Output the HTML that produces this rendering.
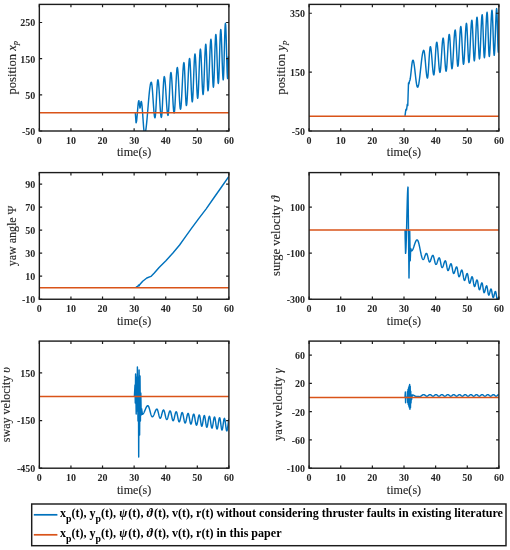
<!DOCTYPE html>
<html lang="en"><head><meta charset="utf-8"><title>figure</title>
<style>
html,body{margin:0;padding:0;background:#fff;}
body{width:510px;height:550px;overflow:hidden;}
svg{display:block;}
text{font-family:"Liberation Serif","DejaVu Serif",serif;fill:#262626;}
.tk{font-size:10.0px;font-weight:bold;}
.lb{font-size:11.5px;stroke:#262626;stroke-width:0.12px;}
.it{font-style:italic;}
.lg{font-size:12.07px;font-weight:bold;fill:#000;}
.sb{font-size:9.8px;}
.bi{font-style:italic;letter-spacing:1.1px;}
</style></head><body>
<svg width="510" height="550" viewBox="0 0 510 550">
<rect width="510" height="550" fill="#fff"/>
<defs>
<clipPath id="cl00"><rect x="39.35" y="4.4" width="189.55" height="126.6"/></clipPath>
<clipPath id="cl10"><rect x="309.1" y="4.4" width="189.79999999999995" height="126.6"/></clipPath>
<clipPath id="cl01"><rect x="39.35" y="172.6" width="189.55" height="126.65"/></clipPath>
<clipPath id="cl11"><rect x="309.1" y="172.6" width="189.79999999999995" height="126.65"/></clipPath>
<clipPath id="cl02"><rect x="39.35" y="341.1" width="189.55" height="127.09999999999997"/></clipPath>
<clipPath id="cl12"><rect x="309.1" y="341.1" width="189.79999999999995" height="127.09999999999997"/></clipPath>
</defs>
<g clip-path="url(#cl00)">
<path d="M135.31,112.95 L136.05,122.77 L136.28,122.39 L136.52,121.29 L136.76,119.53 L136.99,117.24 L137.23,114.58 L137.46,111.72 L137.70,108.86 L137.93,106.19 L138.17,103.91 L138.40,102.15 L138.64,101.05 L138.87,100.67 L139.98,108.04 L140.22,107.40 L140.47,105.75 L140.71,103.70 L140.96,102.04 L141.21,101.41 L141.45,101.81 L141.70,103.01 L141.94,104.94 L142.19,107.51 L142.43,110.58 L142.68,114.01 L142.92,117.61 L143.17,121.22 L143.42,124.64 L143.66,127.72 L143.91,130.28 L144.15,132.21 L144.40,133.41 L144.64,133.82 L144.89,133.64 L145.13,133.12 L145.38,132.26 L145.62,131.07 L145.87,129.58 L146.12,127.79 L146.36,125.73 L146.61,123.43 L146.85,120.93 L147.10,118.25 L147.34,115.43 L147.59,112.51 L147.83,109.53 L148.08,106.54 L148.33,103.56 L148.57,100.64 L148.82,97.82 L149.06,95.15 L149.31,92.64 L149.55,90.34 L149.80,88.29 L150.04,86.50 L150.29,85.00 L150.54,83.81 L150.78,82.95 L151.03,82.43 L151.27,82.25 L151.52,82.64 L151.76,83.79 L152.01,85.65 L152.25,88.14 L152.50,91.16 L152.75,94.55 L152.99,98.20 L153.24,101.92 L153.48,105.56 L153.73,108.96 L153.97,111.97 L154.22,114.46 L154.46,116.32 L154.71,117.47 L154.96,117.86 L155.20,117.21 L155.45,115.31 L155.69,112.28 L155.94,108.34 L156.18,103.75 L156.43,98.83 L156.67,93.90 L156.92,89.31 L157.17,85.37 L157.41,82.35 L157.66,80.45 L157.90,79.80 L158.15,80.27 L158.39,81.66 L158.64,83.90 L158.88,86.87 L159.13,90.43 L159.38,94.40 L159.62,98.58 L159.87,102.76 L160.11,106.73 L160.36,110.29 L160.60,113.27 L160.85,115.51 L161.09,116.90 L161.34,117.37 L161.58,116.67 L161.83,114.64 L162.08,111.40 L162.32,107.18 L162.57,102.26 L162.81,96.99 L163.06,91.71 L163.30,86.80 L163.55,82.58 L163.79,79.34 L164.04,77.30 L164.29,76.61 L164.53,77.03 L164.78,78.28 L165.02,80.31 L165.27,83.03 L165.51,86.31 L165.76,90.01 L166.00,93.98 L166.25,98.03 L166.50,102.00 L166.74,105.70 L166.99,108.98 L167.23,111.70 L167.48,113.72 L167.72,114.98 L167.97,115.40 L168.21,114.67 L168.46,112.52 L168.71,109.11 L168.95,104.66 L169.20,99.48 L169.44,93.92 L169.69,88.36 L169.93,83.18 L170.18,78.73 L170.42,75.31 L170.67,73.17 L170.92,72.43 L171.16,73.02 L171.41,74.75 L171.65,77.53 L171.90,81.18 L172.14,85.51 L172.39,90.25 L172.63,95.13 L172.88,99.87 L173.12,104.20 L173.37,107.85 L173.62,110.63 L173.86,112.36 L174.11,112.95 L174.35,112.29 L174.60,110.34 L174.84,107.23 L175.09,103.14 L175.33,98.29 L175.58,92.97 L175.83,87.50 L176.07,82.18 L176.32,77.33 L176.56,73.23 L176.81,70.12 L177.05,68.18 L177.30,67.52 L177.54,68.13 L177.79,69.91 L178.04,72.77 L178.28,76.54 L178.53,80.99 L178.77,85.88 L179.02,90.91 L179.26,95.79 L179.51,100.25 L179.75,104.01 L180.00,106.87 L180.25,108.66 L180.49,109.26 L180.74,108.68 L180.98,106.95 L181.23,104.17 L181.47,100.48 L181.72,96.06 L181.96,91.13 L182.21,85.94 L182.46,80.75 L182.70,75.82 L182.95,71.39 L183.19,67.70 L183.44,64.92 L183.68,63.20 L183.93,62.61 L184.17,63.66 L184.42,66.71 L184.67,71.47 L184.91,77.46 L185.16,84.10 L185.40,90.74 L185.65,96.72 L185.89,101.48 L186.14,104.53 L186.38,105.58 L186.63,104.90 L186.88,102.88 L187.12,99.65 L187.37,95.40 L187.61,90.37 L187.86,84.85 L188.10,79.17 L188.35,73.65 L188.59,68.62 L188.84,64.37 L189.08,61.14 L189.33,59.12 L189.58,58.44 L189.82,59.32 L190.07,61.89 L190.31,65.94 L190.56,71.14 L190.80,77.07 L191.05,83.26 L191.29,89.19 L191.54,94.40 L191.79,98.45 L192.03,101.02 L192.28,101.90 L192.52,100.93 L192.77,98.10 L193.01,93.63 L193.26,87.90 L193.50,81.36 L193.75,74.55 L194.00,68.01 L194.24,62.28 L194.49,57.82 L194.73,54.99 L194.98,54.02 L195.22,54.91 L195.47,57.53 L195.71,61.64 L195.96,66.94 L196.21,72.97 L196.45,79.26 L196.70,85.30 L196.94,90.59 L197.19,94.71 L197.43,97.32 L197.68,98.21 L197.92,97.22 L198.17,94.32 L198.42,89.74 L198.66,83.86 L198.91,77.16 L199.15,70.17 L199.40,63.46 L199.64,57.58 L199.89,53.00 L200.13,50.10 L200.38,49.11 L200.62,50.03 L200.87,52.71 L201.12,56.95 L201.36,62.38 L201.61,68.59 L201.85,75.05 L202.10,81.25 L202.34,86.69 L202.59,90.93 L202.83,93.61 L203.08,94.53 L203.33,93.51 L203.57,90.54 L203.82,85.84 L204.06,79.82 L204.31,72.95 L204.55,65.78 L204.80,58.91 L205.04,52.88 L205.29,48.19 L205.54,45.22 L205.78,44.20 L206.03,45.60 L206.27,49.65 L206.52,55.86 L206.76,63.47 L207.01,71.57 L207.25,79.19 L207.50,85.39 L207.75,89.44 L207.99,90.85 L208.24,89.97 L208.48,87.39 L208.73,83.30 L208.97,77.96 L209.22,71.74 L209.46,65.07 L209.71,58.39 L209.96,52.18 L210.20,46.84 L210.45,42.74 L210.69,40.16 L210.94,39.29 L211.18,40.46 L211.43,43.86 L211.67,49.15 L211.92,55.83 L212.17,63.23 L212.41,70.62 L212.66,77.30 L212.90,82.59 L213.15,85.99 L213.39,87.17 L213.64,85.87 L213.88,82.12 L214.13,76.28 L214.38,68.93 L214.62,60.77 L214.87,52.61 L215.11,45.26 L215.36,39.42 L215.60,35.67 L215.85,34.38 L216.09,35.58 L216.34,39.06 L216.58,44.50 L216.83,51.34 L217.08,58.93 L217.32,66.52 L217.57,73.36 L217.81,78.79 L218.06,82.28 L218.30,83.48 L218.55,82.16 L218.79,78.32 L219.04,72.35 L219.29,64.82 L219.53,56.47 L219.78,48.13 L220.02,40.60 L220.27,34.62 L220.51,30.79 L220.76,29.46 L221.00,30.70 L221.25,34.27 L221.50,39.84 L221.74,46.85 L221.99,54.63 L222.23,62.41 L222.48,69.42 L222.72,74.99 L222.97,78.57 L223.21,79.80 L223.46,78.10 L223.71,73.19 L223.95,65.68 L224.20,56.47 L224.44,46.66 L224.69,37.44 L224.93,29.93 L225.18,25.03 L225.42,23.33 L225.67,24.99 L225.92,29.79 L226.16,37.14 L226.41,46.15 L226.65,55.75 L226.90,64.76 L227.14,72.11 L227.39,76.91 L227.63,78.57 L228.37,56.47" fill="none" stroke="#0072BD" stroke-width="1.45" stroke-linejoin="round"/>
<path d="M39.35,112.8 H228.9" fill="none" stroke="#D95319" stroke-width="1.5"/>
</g>
<rect x="39.35" y="4.4" width="189.55" height="126.60" fill="none" stroke="#1c1c1c" stroke-width="1.4"/>
<path d="M39.35,131.0 v-2.8 M39.35,4.4 v2.8 M70.94,131.0 v-2.8 M70.94,4.4 v2.8 M102.53,131.0 v-2.8 M102.53,4.4 v2.8 M134.13,131.0 v-2.8 M134.13,4.4 v2.8 M165.72,131.0 v-2.8 M165.72,4.4 v2.8 M197.31,131.0 v-2.8 M197.31,4.4 v2.8 M228.90,131.0 v-2.8 M228.90,4.4 v2.8 M39.35,131.00 h2.8 M228.9,131.00 h-2.8 M39.35,94.83 h2.8 M228.9,94.83 h-2.8 M39.35,58.66 h2.8 M228.9,58.66 h-2.8 M39.35,22.49 h2.8 M228.9,22.49 h-2.8" fill="none" stroke="#1c1c1c" stroke-width="1.2"/>
<text class="tk" x="39.35" y="144.10" text-anchor="middle">0</text>
<text class="tk" x="70.94" y="144.10" text-anchor="middle">10</text>
<text class="tk" x="102.53" y="144.10" text-anchor="middle">20</text>
<text class="tk" x="134.13" y="144.10" text-anchor="middle">30</text>
<text class="tk" x="165.72" y="144.10" text-anchor="middle">40</text>
<text class="tk" x="197.31" y="144.10" text-anchor="middle">50</text>
<text class="tk" x="228.90" y="144.10" text-anchor="middle">60</text>
<text class="tk" x="35.25" y="134.90" text-anchor="end">-50</text>
<text class="tk" x="35.25" y="98.73" text-anchor="end">50</text>
<text class="tk" x="35.25" y="62.56" text-anchor="end">150</text>
<text class="tk" x="35.25" y="26.39" text-anchor="end">250</text>
<text class="lb" x="134.12" y="156.30" text-anchor="middle" textLength="34.3" lengthAdjust="spacingAndGlyphs">time(s)</text>
<text class="lb" transform="translate(15.5,67.70) rotate(-90)" text-anchor="middle" textLength="53.6" lengthAdjust="spacingAndGlyphs">position <tspan class="it">x</tspan><tspan class="it" font-size="8" dy="2.2">p</tspan></text>
<g clip-path="url(#cl10)">
<path d="M404.82,115.89 L405.07,115.26 L405.31,113.60 L405.56,111.55 L405.80,109.90 L406.05,109.26 L406.54,110.00 L407.28,104.35 L407.77,105.58 L408.50,82.99 L409.00,83.97 L409.49,81.03 L409.73,80.77 L409.98,79.99 L410.22,78.75 L410.47,77.10 L410.71,75.12 L410.96,72.91 L411.21,70.59 L411.45,68.27 L411.70,66.06 L411.94,64.09 L412.19,62.43 L412.43,61.19 L412.68,60.42 L412.92,60.16 L413.17,60.34 L413.42,60.89 L413.66,61.78 L413.91,63.00 L414.15,64.51 L414.40,66.27 L414.64,68.24 L414.89,70.35 L415.13,72.55 L415.38,74.78 L415.62,76.98 L415.87,79.09 L416.12,81.05 L416.36,82.81 L416.61,84.32 L416.85,85.54 L417.10,86.43 L417.34,86.98 L417.59,87.17 L417.83,87.02 L418.08,86.59 L418.33,85.87 L418.57,84.89 L418.82,83.65 L419.06,82.17 L419.31,80.49 L419.55,78.62 L419.80,76.59 L420.04,74.44 L420.29,72.20 L420.54,69.91 L420.78,67.59 L421.03,65.30 L421.27,63.06 L421.52,60.91 L421.76,58.88 L422.01,57.01 L422.25,55.33 L422.50,53.85 L422.75,52.61 L422.99,51.63 L423.24,50.91 L423.48,50.48 L423.73,50.33 L423.97,50.64 L424.22,51.53 L424.46,52.98 L424.71,54.92 L424.96,57.27 L425.20,59.92 L425.45,62.76 L425.69,65.66 L425.94,68.49 L426.18,71.14 L426.43,73.49 L426.67,75.43 L426.92,76.88 L427.17,77.78 L427.41,78.08 L427.66,77.54 L427.90,75.98 L428.15,73.48 L428.39,70.22 L428.64,66.43 L428.88,62.37 L429.13,58.30 L429.38,54.51 L429.62,51.25 L429.87,48.76 L430.11,47.19 L430.36,46.65 L430.60,47.01 L430.85,48.05 L431.09,49.73 L431.34,51.97 L431.58,54.64 L431.83,57.63 L432.08,60.77 L432.32,63.91 L432.57,66.90 L432.81,69.57 L433.06,71.81 L433.30,73.49 L433.55,74.53 L433.79,74.89 L434.04,74.33 L434.29,72.70 L434.53,70.11 L434.78,66.72 L435.02,62.79 L435.27,58.56 L435.51,54.33 L435.76,50.40 L436.00,47.01 L436.25,44.42 L436.50,42.79 L436.74,42.23 L436.99,42.67 L437.23,43.96 L437.48,46.03 L437.72,48.75 L437.97,51.98 L438.21,55.51 L438.46,59.15 L438.71,62.69 L438.95,65.91 L439.20,68.64 L439.44,70.70 L439.69,71.99 L439.93,72.43 L440.18,71.93 L440.42,70.46 L440.67,68.11 L440.92,65.01 L441.16,61.34 L441.41,57.32 L441.65,53.17 L441.90,49.15 L442.14,45.48 L442.39,42.38 L442.63,40.03 L442.88,38.56 L443.12,38.06 L443.37,38.62 L443.62,40.28 L443.86,42.91 L444.11,46.34 L444.35,50.34 L444.60,54.63 L444.84,58.92 L445.09,62.92 L445.33,66.35 L445.58,68.98 L445.83,70.64 L446.07,71.21 L446.32,70.67 L446.56,69.10 L446.81,66.57 L447.05,63.25 L447.30,59.32 L447.54,55.01 L447.79,50.57 L448.04,46.26 L448.28,42.33 L448.53,39.01 L448.77,36.48 L449.02,34.91 L449.26,34.38 L449.51,35.07 L449.75,37.10 L450.00,40.31 L450.25,44.42 L450.49,49.12 L450.74,54.01 L450.98,58.70 L451.23,62.82 L451.47,66.02 L451.72,68.05 L451.96,68.75 L452.21,68.19 L452.46,66.53 L452.70,63.87 L452.95,60.37 L453.19,56.23 L453.44,51.69 L453.68,47.01 L453.93,42.47 L454.17,38.33 L454.42,34.83 L454.67,32.18 L454.91,30.52 L455.16,29.96 L455.40,30.69 L455.65,32.84 L455.89,36.23 L456.14,40.58 L456.38,45.54 L456.63,50.71 L456.88,55.67 L457.12,60.02 L457.37,63.41 L457.61,65.56 L457.86,66.29 L458.10,65.62 L458.35,63.63 L458.59,60.47 L458.84,56.35 L459.08,51.55 L459.33,46.41 L459.58,41.26 L459.82,36.46 L460.07,32.34 L460.31,29.18 L460.56,27.20 L460.80,26.52 L461.05,27.28 L461.29,29.52 L461.54,33.04 L461.79,37.57 L462.03,42.73 L462.28,48.11 L462.52,53.28 L462.77,57.81 L463.01,61.33 L463.26,63.56 L463.50,64.33 L463.75,63.63 L464.00,61.58 L464.24,58.33 L464.49,54.08 L464.73,49.13 L464.98,43.83 L465.22,38.52 L465.47,33.58 L465.71,29.33 L465.96,26.07 L466.21,24.02 L466.45,23.33 L466.70,24.29 L466.94,27.08 L467.19,31.42 L467.43,36.90 L467.68,42.97 L467.92,49.04 L468.17,54.51 L468.42,58.86 L468.66,61.65 L468.91,62.61 L469.15,61.89 L469.40,59.77 L469.64,56.39 L469.89,51.99 L470.13,46.87 L470.38,41.37 L470.62,35.88 L470.87,30.75 L471.12,26.35 L471.36,22.98 L471.61,20.86 L471.85,20.13 L472.10,21.13 L472.34,24.03 L472.59,28.53 L472.83,34.22 L473.08,40.51 L473.33,46.81 L473.57,52.49 L473.82,57.00 L474.06,59.90 L474.31,60.89 L474.55,60.01 L474.80,57.42 L475.04,53.35 L475.29,48.12 L475.54,42.15 L475.78,35.93 L476.03,29.96 L476.27,24.73 L476.52,20.66 L476.76,18.07 L477.01,17.19 L477.25,18.21 L477.50,21.17 L477.75,25.79 L477.99,31.61 L478.24,38.06 L478.48,44.51 L478.73,50.33 L478.97,54.94 L479.22,57.91 L479.46,58.93 L479.71,58.03 L479.96,55.42 L480.20,51.30 L480.45,46.01 L480.69,39.98 L480.94,33.69 L481.18,27.65 L481.43,22.36 L481.67,18.24 L481.92,15.63 L482.17,14.73 L482.41,16.03 L482.66,19.76 L482.90,25.47 L483.15,32.49 L483.39,39.95 L483.64,46.96 L483.88,52.67 L484.13,56.41 L484.38,57.70 L484.62,56.78 L484.87,54.10 L485.11,49.86 L485.36,44.42 L485.60,38.22 L485.85,31.76 L486.09,25.55 L486.34,20.12 L486.58,15.88 L486.83,13.20 L487.08,12.28 L487.32,13.61 L487.57,17.45 L487.81,23.33 L488.06,30.54 L488.30,38.21 L488.55,45.42 L488.79,51.30 L489.04,55.14 L489.29,56.47 L489.53,55.54 L489.78,52.81 L490.02,48.51 L490.27,42.98 L490.51,36.68 L490.76,30.11 L491.00,23.80 L491.25,18.28 L491.50,13.98 L491.74,11.25 L491.99,10.31 L492.23,11.67 L492.48,15.57 L492.72,21.55 L492.97,28.88 L493.21,36.68 L493.46,44.01 L493.71,49.99 L493.95,53.89 L494.20,55.25 L494.44,54.10 L494.69,50.79 L494.93,45.63 L495.18,39.13 L495.42,31.92 L495.67,24.71 L495.92,18.21 L496.16,13.05 L496.41,9.74 L496.65,8.59 L496.90,10.78 L497.14,16.91 L497.39,25.77 L497.63,35.61 L497.88,44.47 L498.12,50.60 L498.37,52.79" fill="none" stroke="#0072BD" stroke-width="1.45" stroke-linejoin="round"/>
<path d="M309.1,116.2 H498.9" fill="none" stroke="#D95319" stroke-width="1.5"/>
</g>
<rect x="309.1" y="4.4" width="189.80" height="126.60" fill="none" stroke="#1c1c1c" stroke-width="1.4"/>
<path d="M309.10,131.0 v-2.8 M309.10,4.4 v2.8 M340.73,131.0 v-2.8 M340.73,4.4 v2.8 M372.37,131.0 v-2.8 M372.37,4.4 v2.8 M404.00,131.0 v-2.8 M404.00,4.4 v2.8 M435.63,131.0 v-2.8 M435.63,4.4 v2.8 M467.27,131.0 v-2.8 M467.27,4.4 v2.8 M498.90,131.0 v-2.8 M498.90,4.4 v2.8 M309.1,131.00 h2.8 M498.9,131.00 h-2.8 M309.1,72.12 h2.8 M498.9,72.12 h-2.8 M309.1,13.23 h2.8 M498.9,13.23 h-2.8" fill="none" stroke="#1c1c1c" stroke-width="1.2"/>
<text class="tk" x="309.10" y="144.10" text-anchor="middle">0</text>
<text class="tk" x="340.73" y="144.10" text-anchor="middle">10</text>
<text class="tk" x="372.37" y="144.10" text-anchor="middle">20</text>
<text class="tk" x="404.00" y="144.10" text-anchor="middle">30</text>
<text class="tk" x="435.63" y="144.10" text-anchor="middle">40</text>
<text class="tk" x="467.27" y="144.10" text-anchor="middle">50</text>
<text class="tk" x="498.90" y="144.10" text-anchor="middle">60</text>
<text class="tk" x="305.00" y="134.90" text-anchor="end">-50</text>
<text class="tk" x="305.00" y="76.02" text-anchor="end">150</text>
<text class="tk" x="305.00" y="17.13" text-anchor="end">350</text>
<text class="lb" x="404.00" y="156.30" text-anchor="middle" textLength="34.3" lengthAdjust="spacingAndGlyphs">time(s)</text>
<text class="lb" transform="translate(285.0,67.70) rotate(-90)" text-anchor="middle" textLength="54.0" lengthAdjust="spacingAndGlyphs">position <tspan class="it">y</tspan><tspan class="it" font-size="8" dy="2.2">p</tspan></text>
<g clip-path="url(#cl01)">
<path d="M135.90,287.20 L137.60,286.50 L138.50,285.00 L139.00,285.90 L139.60,284.80 L142.70,281.20 L146.80,278.00 L150.90,276.40 L154.30,273.00 L159.10,267.50 L165.90,260.70 L172.70,253.20 L179.60,245.00 L183.60,239.40 L191.30,228.60 L198.70,218.60 L206.00,209.10 L213.40,198.50 L220.80,188.00 L228.90,176.40" fill="none" stroke="#0072BD" stroke-width="1.45" stroke-linejoin="round"/>
<path d="M39.35,287.8 H228.9" fill="none" stroke="#D95319" stroke-width="1.5"/>
</g>
<rect x="39.35" y="172.6" width="189.55" height="126.65" fill="none" stroke="#1c1c1c" stroke-width="1.4"/>
<path d="M39.35,299.25 v-2.8 M39.35,172.6 v2.8 M70.94,299.25 v-2.8 M70.94,172.6 v2.8 M102.53,299.25 v-2.8 M102.53,172.6 v2.8 M134.13,299.25 v-2.8 M134.13,172.6 v2.8 M165.72,299.25 v-2.8 M165.72,172.6 v2.8 M197.31,299.25 v-2.8 M197.31,172.6 v2.8 M228.90,299.25 v-2.8 M228.90,172.6 v2.8 M39.35,299.25 h2.8 M228.9,299.25 h-2.8 M39.35,276.22 h2.8 M228.9,276.22 h-2.8 M39.35,253.20 h2.8 M228.9,253.20 h-2.8 M39.35,230.17 h2.8 M228.9,230.17 h-2.8 M39.35,207.14 h2.8 M228.9,207.14 h-2.8 M39.35,184.11 h2.8 M228.9,184.11 h-2.8" fill="none" stroke="#1c1c1c" stroke-width="1.2"/>
<text class="tk" x="39.35" y="312.35" text-anchor="middle">0</text>
<text class="tk" x="70.94" y="312.35" text-anchor="middle">10</text>
<text class="tk" x="102.53" y="312.35" text-anchor="middle">20</text>
<text class="tk" x="134.13" y="312.35" text-anchor="middle">30</text>
<text class="tk" x="165.72" y="312.35" text-anchor="middle">40</text>
<text class="tk" x="197.31" y="312.35" text-anchor="middle">50</text>
<text class="tk" x="228.90" y="312.35" text-anchor="middle">60</text>
<text class="tk" x="35.25" y="303.15" text-anchor="end">-10</text>
<text class="tk" x="35.25" y="280.12" text-anchor="end">10</text>
<text class="tk" x="35.25" y="257.10" text-anchor="end">30</text>
<text class="tk" x="35.25" y="234.07" text-anchor="end">50</text>
<text class="tk" x="35.25" y="211.04" text-anchor="end">70</text>
<text class="tk" x="35.25" y="188.01" text-anchor="end">90</text>
<text class="lb" x="134.12" y="324.55" text-anchor="middle" textLength="34.3" lengthAdjust="spacingAndGlyphs">time(s)</text>
<text class="lb" transform="translate(16.0,235.93) rotate(-90)" text-anchor="middle" textLength="60.7" lengthAdjust="spacingAndGlyphs">yaw angle <tspan class="up">Ψ</tspan></text>
<g clip-path="url(#cl11)">
<path d="M405.07,230.07 L405.19,238.66 L405.56,253.39 L405.80,251.77 L406.05,247.06 L406.29,239.73 L406.54,230.49 L406.79,220.25 L407.03,210.00 L407.28,200.76 L407.52,193.43 L407.77,188.72 L408.01,187.10 L409.00,277.95 L409.73,231.29 L410.22,260.76 L410.71,248.48 L411.45,250.94 L411.70,250.89 L411.94,250.73 L412.19,250.48 L412.43,250.13 L412.68,249.70 L412.92,249.18 L413.17,248.60 L413.42,247.95 L413.66,247.26 L413.91,246.54 L414.15,245.79 L414.40,245.04 L414.64,244.29 L414.89,243.56 L415.13,242.87 L415.38,242.23 L415.62,241.64 L415.87,241.13 L416.12,240.69 L416.36,240.35 L416.61,240.09 L416.85,239.94 L417.10,239.89 L417.34,239.97 L417.59,240.20 L417.83,240.58 L418.08,241.10 L418.33,241.76 L418.57,242.55 L418.82,243.45 L419.06,244.45 L419.31,245.53 L419.55,246.67 L419.80,247.87 L420.04,249.09 L420.29,250.33 L420.54,251.55 L420.78,252.74 L421.03,253.89 L421.27,254.97 L421.52,255.97 L421.76,256.87 L422.01,257.66 L422.25,258.32 L422.50,258.84 L422.75,259.22 L422.99,259.45 L423.24,259.53 L423.48,259.44 L423.73,259.18 L423.97,258.76 L424.22,258.21 L424.46,257.55 L424.71,256.83 L424.96,256.09 L425.20,255.37 L425.45,254.72 L425.69,254.16 L425.94,253.74 L426.18,253.48 L426.43,253.39 L426.67,253.52 L426.92,253.89 L427.17,254.47 L427.41,255.25 L427.66,256.17 L427.90,257.17 L428.15,258.21 L428.39,259.21 L428.64,260.13 L428.88,260.91 L429.13,261.49 L429.38,261.86 L429.62,261.99 L429.87,261.89 L430.11,261.61 L430.36,261.15 L430.60,260.55 L430.85,259.85 L431.09,259.07 L431.34,258.27 L431.58,257.50 L431.83,256.79 L432.08,256.19 L432.32,255.74 L432.57,255.45 L432.81,255.36 L433.06,255.49 L433.30,255.88 L433.55,256.50 L433.79,257.32 L434.04,258.29 L434.29,259.35 L434.53,260.45 L434.78,261.51 L435.02,262.48 L435.27,263.30 L435.51,263.92 L435.76,264.31 L436.00,264.44 L436.25,264.35 L436.50,264.06 L436.74,263.61 L436.99,263.01 L437.23,262.30 L437.48,261.53 L437.72,260.73 L437.97,259.95 L438.21,259.24 L438.46,258.65 L438.71,258.19 L438.95,257.91 L439.20,257.81 L439.44,257.98 L439.69,258.47 L439.93,259.25 L440.18,260.27 L440.42,261.45 L440.67,262.72 L440.92,263.99 L441.16,265.18 L441.41,266.20 L441.65,266.98 L441.90,267.47 L442.14,267.63 L442.39,267.53 L442.63,267.24 L442.88,266.77 L443.12,266.15 L443.37,265.42 L443.62,264.61 L443.86,263.78 L444.11,262.98 L444.35,262.24 L444.60,261.62 L444.84,261.15 L445.09,260.86 L445.33,260.76 L445.58,260.96 L445.83,261.54 L446.07,262.45 L446.32,263.63 L446.56,264.97 L446.81,266.37 L447.05,267.71 L447.30,268.89 L447.54,269.80 L447.79,270.38 L448.04,270.58 L448.28,270.46 L448.53,270.12 L448.77,269.57 L449.02,268.86 L449.26,268.03 L449.51,267.14 L449.75,266.25 L450.00,265.42 L450.25,264.71 L450.49,264.17 L450.74,263.82 L450.98,263.71 L451.23,263.90 L451.47,264.48 L451.72,265.40 L451.96,266.58 L452.21,267.92 L452.46,269.31 L452.70,270.66 L452.95,271.83 L453.19,272.75 L453.44,273.33 L453.68,273.53 L453.93,273.41 L454.17,273.08 L454.42,272.56 L454.67,271.87 L454.91,271.07 L455.16,270.21 L455.40,269.35 L455.65,268.55 L455.89,267.87 L456.14,267.34 L456.38,267.01 L456.63,266.90 L456.88,267.14 L457.12,267.84 L457.37,268.92 L457.61,270.29 L457.86,271.81 L458.10,273.33 L458.35,274.69 L458.59,275.78 L458.84,276.48 L459.08,276.72 L459.33,276.58 L459.58,276.19 L459.82,275.57 L460.07,274.78 L460.31,273.88 L460.56,272.93 L460.80,272.03 L461.05,271.23 L461.29,270.62 L461.54,270.22 L461.79,270.09 L462.03,270.30 L462.28,270.91 L462.52,271.87 L462.77,273.10 L463.01,274.51 L463.26,275.98 L463.50,277.39 L463.75,278.62 L464.00,279.58 L464.24,280.19 L464.49,280.40 L464.73,280.26 L464.98,279.86 L465.22,279.22 L465.47,278.39 L465.71,277.45 L465.96,276.48 L466.21,275.54 L466.45,274.71 L466.70,274.07 L466.94,273.67 L467.19,273.53 L467.43,273.77 L467.68,274.46 L467.92,275.55 L468.17,276.92 L468.42,278.44 L468.66,279.95 L468.91,281.32 L469.15,282.41 L469.40,283.11 L469.64,283.35 L469.89,283.19 L470.13,282.72 L470.38,281.98 L470.62,281.06 L470.87,280.03 L471.12,279.01 L471.36,278.09 L471.61,277.35 L471.85,276.88 L472.10,276.72 L472.34,276.96 L472.59,277.66 L472.83,278.74 L473.08,280.11 L473.33,281.63 L473.57,283.15 L473.82,284.52 L474.06,285.60 L474.31,286.30 L474.55,286.54 L474.80,286.38 L475.04,285.91 L475.29,285.17 L475.54,284.25 L475.78,283.23 L476.03,282.20 L476.27,281.28 L476.52,280.54 L476.76,280.07 L477.01,279.91 L477.25,280.15 L477.50,280.85 L477.75,281.93 L477.99,283.30 L478.24,284.82 L478.48,286.34 L478.73,287.71 L478.97,288.79 L479.22,289.49 L479.46,289.73 L479.71,289.56 L479.96,289.08 L480.20,288.32 L480.45,287.36 L480.69,286.29 L480.94,285.23 L481.18,284.27 L481.43,283.51 L481.67,283.03 L481.92,282.86 L482.17,283.15 L482.41,284.01 L482.66,285.31 L482.90,286.92 L483.15,288.62 L483.39,290.22 L483.64,291.53 L483.88,292.38 L484.13,292.68 L484.38,292.51 L484.62,292.02 L484.87,291.26 L485.11,290.30 L485.36,289.24 L485.60,288.18 L485.85,287.22 L486.09,286.46 L486.34,285.97 L486.58,285.80 L486.83,286.08 L487.08,286.90 L487.32,288.14 L487.57,289.66 L487.81,291.28 L488.06,292.80 L488.30,294.04 L488.55,294.85 L488.79,295.13 L489.04,294.95 L489.29,294.42 L489.53,293.60 L489.78,292.60 L490.02,291.53 L490.27,290.53 L490.51,289.71 L490.76,289.18 L491.00,289.00 L491.25,289.25 L491.50,290.00 L491.74,291.14 L491.99,292.55 L492.23,294.04 L492.48,295.44 L492.72,296.58 L492.97,297.33 L493.21,297.59 L493.46,297.40 L493.71,296.87 L493.95,296.05 L494.20,295.05 L494.44,293.99 L494.69,292.99 L494.93,292.17 L495.18,291.64 L495.42,291.45 L495.67,291.76 L495.92,292.64 L496.16,293.95 L496.41,295.50 L496.65,297.05 L496.90,298.37 L497.14,299.25 L497.39,299.55 L498.37,297.59" fill="none" stroke="#0072BD" stroke-width="1.45" stroke-linejoin="round"/>
<path d="M309.1,230.0 H498.9" fill="none" stroke="#D95319" stroke-width="1.5"/>
</g>
<rect x="309.1" y="172.6" width="189.80" height="126.65" fill="none" stroke="#1c1c1c" stroke-width="1.4"/>
<path d="M309.10,299.25 v-2.8 M309.10,172.6 v2.8 M340.73,299.25 v-2.8 M340.73,172.6 v2.8 M372.37,299.25 v-2.8 M372.37,172.6 v2.8 M404.00,299.25 v-2.8 M404.00,172.6 v2.8 M435.63,299.25 v-2.8 M435.63,172.6 v2.8 M467.27,299.25 v-2.8 M467.27,172.6 v2.8 M498.90,299.25 v-2.8 M498.90,172.6 v2.8 M309.1,299.25 h2.8 M498.9,299.25 h-2.8 M309.1,253.20 h2.8 M498.9,253.20 h-2.8 M309.1,207.14 h2.8 M498.9,207.14 h-2.8" fill="none" stroke="#1c1c1c" stroke-width="1.2"/>
<text class="tk" x="309.10" y="312.35" text-anchor="middle">0</text>
<text class="tk" x="340.73" y="312.35" text-anchor="middle">10</text>
<text class="tk" x="372.37" y="312.35" text-anchor="middle">20</text>
<text class="tk" x="404.00" y="312.35" text-anchor="middle">30</text>
<text class="tk" x="435.63" y="312.35" text-anchor="middle">40</text>
<text class="tk" x="467.27" y="312.35" text-anchor="middle">50</text>
<text class="tk" x="498.90" y="312.35" text-anchor="middle">60</text>
<text class="tk" x="305.00" y="303.15" text-anchor="end">-300</text>
<text class="tk" x="305.00" y="257.10" text-anchor="end">-100</text>
<text class="tk" x="305.00" y="211.04" text-anchor="end">100</text>
<text class="lb" x="404.00" y="324.55" text-anchor="middle" textLength="34.3" lengthAdjust="spacingAndGlyphs">time(s)</text>
<text class="lb" transform="translate(280.4,235.93) rotate(-90)" text-anchor="middle" textLength="80.0" lengthAdjust="spacingAndGlyphs">surge velocity <tspan class="it">ϑ</tspan></text>
<g clip-path="url(#cl02)">
<path d="M134.40,396.60 L135.00,385.00 L135.30,403.00 L135.60,374.00 L136.20,414.00 L136.80,377.00 L137.10,411.00 L137.40,367.00 L138.00,421.00 L138.40,377.00 L138.70,457.00 L139.10,370.00 L139.60,435.00 L140.00,376.00 L140.40,421.00 L140.80,393.00 L141.20,415.00 L141.60,408.60 L142.40,414.20 L142.65,414.16 L142.89,414.03 L143.14,413.82 L143.38,413.53 L143.63,413.16 L143.87,412.73 L144.12,412.25 L144.36,411.72 L144.61,411.15 L144.85,410.55 L145.10,409.95 L145.35,409.35 L145.59,408.75 L145.84,408.18 L146.08,407.65 L146.33,407.17 L146.57,406.74 L146.82,406.37 L147.06,406.08 L147.31,405.87 L147.55,405.74 L147.80,405.70 L148.04,405.78 L148.28,406.00 L148.52,406.37 L148.76,406.87 L149.00,407.49 L149.24,408.21 L149.48,409.02 L149.72,409.88 L149.96,410.78 L150.19,411.70 L150.43,412.60 L150.67,413.47 L150.91,414.27 L151.15,414.99 L151.39,415.61 L151.63,416.11 L151.87,416.48 L152.11,416.71 L152.35,416.78 L152.59,416.73 L152.83,416.57 L153.07,416.32 L153.31,415.97 L153.55,415.54 L153.79,415.04 L154.03,414.48 L154.27,413.88 L154.51,413.26 L154.74,412.62 L154.98,412.00 L155.22,411.40 L155.46,410.84 L155.70,410.34 L155.94,409.91 L156.18,409.56 L156.42,409.31 L156.66,409.15 L156.90,409.10 L157.14,409.21 L157.37,409.55 L157.61,410.10 L157.84,410.83 L158.08,411.70 L158.31,412.67 L158.55,413.69 L158.79,414.71 L159.02,415.68 L159.26,416.55 L159.49,417.27 L159.73,417.82 L159.96,418.16 L160.20,418.27 L160.44,418.17 L160.67,417.86 L160.91,417.37 L161.14,416.72 L161.38,415.93 L161.61,415.06 L161.85,414.14 L162.09,413.22 L162.32,412.34 L162.56,411.56 L162.79,410.91 L163.03,410.41 L163.26,410.11 L163.50,410.00 L163.74,410.12 L163.97,410.48 L164.21,411.04 L164.44,411.80 L164.68,412.70 L164.91,413.71 L165.15,414.77 L165.39,415.83 L165.62,416.83 L165.86,417.73 L166.09,418.49 L166.33,419.06 L166.56,419.41 L166.80,419.53 L167.04,419.42 L167.27,419.10 L167.51,418.59 L167.74,417.90 L167.98,417.09 L168.21,416.18 L168.45,415.22 L168.69,414.26 L168.92,413.35 L169.16,412.53 L169.39,411.85 L169.63,411.34 L169.86,411.02 L170.10,410.91 L170.33,411.05 L170.57,411.47 L170.80,412.14 L171.04,413.03 L171.27,414.08 L171.51,415.23 L171.74,416.41 L171.98,417.56 L172.21,418.61 L172.45,419.50 L172.68,420.17 L172.92,420.59 L173.15,420.73 L173.38,420.60 L173.62,420.22 L173.85,419.60 L174.09,418.79 L174.32,417.83 L174.56,416.78 L174.79,415.70 L175.03,414.64 L175.26,413.69 L175.50,412.87 L175.73,412.26 L175.97,411.87 L176.20,411.74 L176.43,411.89 L176.66,412.32 L176.89,413.02 L177.12,413.93 L177.35,415.02 L177.58,416.20 L177.82,417.42 L178.05,418.61 L178.28,419.69 L178.51,420.61 L178.74,421.30 L178.97,421.74 L179.20,421.88 L179.43,421.75 L179.66,421.35 L179.89,420.71 L180.12,419.87 L180.35,418.88 L180.58,417.79 L180.82,416.66 L181.05,415.57 L181.28,414.58 L181.51,413.74 L181.74,413.10 L181.97,412.70 L182.20,412.57 L182.45,412.74 L182.69,413.27 L182.94,414.10 L183.18,415.18 L183.43,416.44 L183.67,417.79 L183.92,419.14 L184.17,420.40 L184.41,421.48 L184.66,422.31 L184.90,422.84 L185.15,423.01 L185.40,422.85 L185.64,422.37 L185.89,421.60 L186.13,420.60 L186.38,419.44 L186.62,418.19 L186.87,416.95 L187.12,415.78 L187.36,414.79 L187.61,414.02 L187.85,413.54 L188.10,413.37 L188.33,413.56 L188.57,414.09 L188.80,414.95 L189.03,416.06 L189.27,417.35 L189.50,418.74 L189.73,420.13 L189.97,421.42 L190.20,422.53 L190.43,423.39 L190.67,423.92 L190.90,424.11 L191.13,423.94 L191.37,423.44 L191.60,422.65 L191.83,421.61 L192.07,420.41 L192.30,419.12 L192.53,417.83 L192.77,416.63 L193.00,415.60 L193.23,414.81 L193.47,414.31 L193.70,414.14 L193.93,414.33 L194.17,414.88 L194.40,415.76 L194.63,416.90 L194.87,418.23 L195.10,419.66 L195.33,421.08 L195.57,422.41 L195.80,423.55 L196.03,424.43 L196.27,424.98 L196.50,425.17 L196.73,425.00 L196.97,424.48 L197.20,423.67 L197.43,422.60 L197.67,421.37 L197.90,420.04 L198.13,418.71 L198.37,417.47 L198.60,416.41 L198.83,415.60 L199.07,415.08 L199.30,414.91 L199.53,415.14 L199.75,415.80 L199.98,416.85 L200.21,418.20 L200.44,419.74 L200.66,421.34 L200.89,422.88 L201.12,424.23 L201.35,425.28 L201.57,425.95 L201.80,426.18 L202.03,425.96 L202.25,425.34 L202.48,424.35 L202.71,423.08 L202.94,421.64 L203.16,420.13 L203.39,418.69 L203.62,417.42 L203.85,416.43 L204.07,415.81 L204.30,415.59 L204.53,415.83 L204.76,416.51 L205.00,417.59 L205.23,418.97 L205.46,420.54 L205.69,422.19 L205.92,423.76 L206.15,425.14 L206.39,426.22 L206.62,426.90 L206.85,427.14 L207.08,426.92 L207.31,426.28 L207.55,425.27 L207.78,423.97 L208.01,422.49 L208.24,420.94 L208.47,419.46 L208.70,418.16 L208.94,417.15 L209.17,416.51 L209.40,416.29 L209.63,416.53 L209.86,417.23 L210.10,418.33 L210.33,419.75 L210.56,421.36 L210.79,423.04 L211.02,424.65 L211.25,426.07 L211.49,427.17 L211.72,427.87 L211.95,428.11 L212.18,427.88 L212.41,427.22 L212.65,426.19 L212.88,424.86 L213.11,423.34 L213.34,421.76 L213.57,420.24 L213.80,418.91 L214.04,417.87 L214.27,417.22 L214.50,416.99 L214.73,417.24 L214.96,417.95 L215.20,419.08 L215.43,420.52 L215.66,422.17 L215.89,423.89 L216.12,425.54 L216.35,426.99 L216.59,428.12 L216.82,428.83 L217.05,429.07 L217.28,428.84 L217.51,428.17 L217.75,427.11 L217.98,425.75 L218.21,424.19 L218.44,422.57 L218.67,421.02 L218.90,419.65 L219.14,418.59 L219.37,417.92 L219.60,417.69 L219.84,417.99 L220.08,418.87 L220.32,420.23 L220.56,421.95 L220.80,423.85 L221.04,425.76 L221.28,427.47 L221.52,428.84 L221.76,429.71 L222.00,430.01 L222.24,429.73 L222.48,428.90 L222.72,427.61 L222.96,425.98 L223.20,424.18 L223.44,422.38 L223.68,420.75 L223.92,419.46 L224.16,418.63 L224.40,418.35 L224.64,418.66 L224.88,419.55 L225.12,420.94 L225.36,422.69 L225.60,424.64 L225.84,426.58 L226.08,428.33 L226.32,429.73 L226.56,430.62 L226.80,430.93 L227.04,430.64 L227.28,429.79 L227.52,428.47 L227.76,426.81 L228.00,424.97 L228.24,423.12 L228.48,421.46 L228.72,420.14 L228.96,419.30 L229.20,419.01" fill="none" stroke="#0072BD" stroke-width="1.45" stroke-linejoin="round"/>
<path d="M39.35,396.6 H228.9" fill="none" stroke="#D95319" stroke-width="1.5"/>
</g>
<rect x="39.35" y="341.1" width="189.55" height="127.10" fill="none" stroke="#1c1c1c" stroke-width="1.4"/>
<path d="M39.35,468.2 v-2.8 M39.35,341.1 v2.8 M70.94,468.2 v-2.8 M70.94,341.1 v2.8 M102.53,468.2 v-2.8 M102.53,341.1 v2.8 M134.13,468.2 v-2.8 M134.13,341.1 v2.8 M165.72,468.2 v-2.8 M165.72,341.1 v2.8 M197.31,468.2 v-2.8 M197.31,341.1 v2.8 M228.90,468.2 v-2.8 M228.90,341.1 v2.8 M39.35,468.20 h2.8 M228.9,468.20 h-2.8 M39.35,420.54 h2.8 M228.9,420.54 h-2.8 M39.35,372.88 h2.8 M228.9,372.88 h-2.8" fill="none" stroke="#1c1c1c" stroke-width="1.2"/>
<text class="tk" x="39.35" y="481.30" text-anchor="middle">0</text>
<text class="tk" x="70.94" y="481.30" text-anchor="middle">10</text>
<text class="tk" x="102.53" y="481.30" text-anchor="middle">20</text>
<text class="tk" x="134.13" y="481.30" text-anchor="middle">30</text>
<text class="tk" x="165.72" y="481.30" text-anchor="middle">40</text>
<text class="tk" x="197.31" y="481.30" text-anchor="middle">50</text>
<text class="tk" x="228.90" y="481.30" text-anchor="middle">60</text>
<text class="tk" x="35.25" y="472.10" text-anchor="end">-450</text>
<text class="tk" x="35.25" y="424.44" text-anchor="end">-150</text>
<text class="tk" x="35.25" y="376.77" text-anchor="end">150</text>
<text class="lb" x="134.12" y="493.50" text-anchor="middle" textLength="34.3" lengthAdjust="spacingAndGlyphs">time(s)</text>
<text class="lb" transform="translate(10.3,404.65) rotate(-90)" text-anchor="middle" textLength="75.0" lengthAdjust="spacingAndGlyphs">sway velocity <tspan class="it">υ</tspan></text>
<g clip-path="url(#cl12)">
<path d="M405.00,397.20 L405.35,392.00 L405.60,402.70 L405.90,397.20 L406.60,397.20 L407.30,397.20 L407.50,391.40 L407.77,402.71 L408.04,389.60 L408.31,404.42 L408.58,387.80 L408.85,406.13 L409.12,386.00 L409.39,407.84 L409.66,384.40 L409.93,409.36 L410.20,386.20 L410.47,407.65 L410.74,391.20 L411.01,402.90 L411.28,394.70 L411.55,399.57 L412.30,394.90 L412.54,394.91 L412.77,394.95 L413.01,395.01 L413.24,395.10 L413.48,395.20 L413.71,395.32 L413.95,395.44 L414.18,395.58 L414.42,395.72 L414.65,395.86 L414.89,395.98 L415.12,396.10 L415.36,396.20 L415.59,396.29 L415.83,396.35 L416.06,396.39 L416.30,396.40 L416.54,396.40 L416.77,396.41 L417.01,396.42 L417.24,396.44 L417.48,396.46 L417.71,396.48 L417.95,396.50 L418.19,396.52 L418.42,396.54 L418.66,396.56 L418.89,396.58 L419.13,396.59 L419.36,396.60 L419.60,396.60 L419.84,396.58 L420.08,396.53 L420.32,396.45 L420.56,396.34 L420.81,396.20 L421.05,396.05 L421.29,395.87 L421.53,395.69 L421.77,395.51 L422.01,395.33 L422.25,395.15 L422.49,395.00 L422.74,394.86 L422.98,394.75 L423.22,394.67 L423.46,394.62 L423.70,394.60 L423.94,394.62 L424.18,394.69 L424.43,394.80 L424.67,394.95 L424.91,395.12 L425.15,395.30 L425.40,395.50 L425.64,395.68 L425.88,395.85 L426.12,396.00 L426.37,396.11 L426.61,396.18 L426.85,396.20 L427.09,396.18 L427.33,396.11 L427.58,396.00 L427.82,395.85 L428.06,395.68 L428.30,395.50 L428.55,395.30 L428.79,395.12 L429.03,394.95 L429.27,394.80 L429.52,394.69 L429.76,394.62 L430.00,394.60 L430.23,394.62 L430.46,394.69 L430.69,394.80 L430.92,394.95 L431.15,395.12 L431.38,395.30 L431.62,395.50 L431.85,395.68 L432.08,395.85 L432.31,396.00 L432.54,396.11 L432.77,396.18 L433.00,396.20 L433.23,396.18 L433.46,396.11 L433.69,396.00 L433.92,395.85 L434.15,395.68 L434.38,395.50 L434.62,395.30 L434.85,395.12 L435.08,394.95 L435.31,394.80 L435.54,394.69 L435.77,394.62 L436.00,394.60 L436.25,394.63 L436.49,394.71 L436.74,394.83 L436.98,395.00 L437.23,395.19 L437.48,395.40 L437.72,395.61 L437.97,395.80 L438.21,395.97 L438.46,396.09 L438.70,396.17 L438.95,396.20 L439.20,396.17 L439.44,396.09 L439.69,395.97 L439.93,395.80 L440.18,395.61 L440.42,395.40 L440.67,395.19 L440.92,395.00 L441.16,394.83 L441.41,394.71 L441.65,394.63 L441.90,394.60 L442.15,394.63 L442.39,394.71 L442.64,394.83 L442.88,395.00 L443.13,395.19 L443.38,395.40 L443.62,395.61 L443.87,395.80 L444.11,395.97 L444.36,396.09 L444.60,396.17 L444.85,396.20 L445.10,396.17 L445.34,396.09 L445.59,395.97 L445.83,395.80 L446.08,395.61 L446.33,395.40 L446.57,395.19 L446.82,395.00 L447.06,394.83 L447.31,394.71 L447.55,394.63 L447.80,394.60 L448.05,394.63 L448.29,394.71 L448.54,394.83 L448.78,395.00 L449.03,395.19 L449.27,395.40 L449.52,395.61 L449.77,395.80 L450.01,395.97 L450.26,396.09 L450.50,396.17 L450.75,396.20 L451.00,396.17 L451.24,396.09 L451.49,395.97 L451.73,395.80 L451.98,395.61 L452.23,395.40 L452.47,395.19 L452.72,395.00 L452.96,394.83 L453.21,394.71 L453.45,394.63 L453.70,394.60 L453.94,394.63 L454.18,394.71 L454.43,394.83 L454.67,395.00 L454.91,395.19 L455.15,395.40 L455.39,395.61 L455.63,395.80 L455.88,395.97 L456.12,396.09 L456.36,396.17 L456.60,396.20 L456.84,396.17 L457.08,396.09 L457.33,395.97 L457.57,395.80 L457.81,395.61 L458.05,395.40 L458.29,395.19 L458.53,395.00 L458.77,394.83 L459.02,394.71 L459.26,394.63 L459.50,394.60 L459.74,394.63 L459.98,394.71 L460.21,394.83 L460.45,395.00 L460.69,395.19 L460.93,395.40 L461.16,395.61 L461.40,395.80 L461.64,395.97 L461.88,396.09 L462.11,396.17 L462.35,396.20 L462.59,396.17 L462.83,396.09 L463.06,395.97 L463.30,395.80 L463.54,395.61 L463.77,395.40 L464.01,395.19 L464.25,395.00 L464.49,394.83 L464.73,394.71 L464.96,394.63 L465.20,394.60 L465.44,394.63 L465.67,394.71 L465.91,394.83 L466.15,395.00 L466.39,395.19 L466.62,395.40 L466.86,395.61 L467.10,395.80 L467.34,395.97 L467.57,396.09 L467.81,396.17 L468.05,396.20 L468.29,396.17 L468.52,396.09 L468.76,395.97 L469.00,395.80 L469.24,395.61 L469.47,395.40 L469.71,395.19 L469.95,395.00 L470.19,394.83 L470.42,394.71 L470.66,394.63 L470.90,394.60 L471.13,394.63 L471.37,394.71 L471.60,394.83 L471.83,395.00 L472.07,395.19 L472.30,395.40 L472.53,395.61 L472.77,395.80 L473.00,395.97 L473.23,396.09 L473.47,396.17 L473.70,396.20 L473.93,396.17 L474.17,396.09 L474.40,395.97 L474.63,395.80 L474.87,395.61 L475.10,395.40 L475.33,395.19 L475.57,395.00 L475.80,394.83 L476.03,394.71 L476.27,394.63 L476.50,394.60 L476.73,394.63 L476.97,394.71 L477.20,394.83 L477.43,395.00 L477.67,395.19 L477.90,395.40 L478.13,395.61 L478.37,395.80 L478.60,395.97 L478.83,396.09 L479.07,396.17 L479.30,396.20 L479.53,396.17 L479.77,396.09 L480.00,395.97 L480.23,395.80 L480.47,395.61 L480.70,395.40 L480.93,395.19 L481.17,395.00 L481.40,394.83 L481.63,394.71 L481.87,394.63 L482.10,394.60 L482.34,394.63 L482.58,394.71 L482.81,394.83 L483.05,395.00 L483.29,395.19 L483.53,395.40 L483.76,395.61 L484.00,395.80 L484.24,395.97 L484.48,396.09 L484.71,396.17 L484.95,396.20 L485.19,396.17 L485.43,396.09 L485.66,395.97 L485.90,395.80 L486.14,395.61 L486.38,395.40 L486.61,395.19 L486.85,395.00 L487.09,394.83 L487.33,394.71 L487.56,394.63 L487.80,394.60 L488.03,394.63 L488.27,394.71 L488.50,394.83 L488.73,395.00 L488.97,395.19 L489.20,395.40 L489.43,395.61 L489.67,395.80 L489.90,395.97 L490.13,396.09 L490.37,396.17 L490.60,396.20 L490.83,396.17 L491.07,396.09 L491.30,395.97 L491.53,395.80 L491.77,395.61 L492.00,395.40 L492.23,395.19 L492.47,395.00 L492.70,394.83 L492.93,394.71 L493.17,394.63 L493.40,394.60 L493.65,394.63 L493.89,394.73 L494.14,394.88 L494.38,395.07 L494.63,395.29 L494.87,395.51 L495.12,395.73 L495.36,395.92 L495.61,396.07 L495.85,396.17 L496.10,396.20 L496.35,396.17 L496.59,396.07 L496.84,395.92 L497.08,395.73 L497.33,395.51 L497.57,395.29 L497.82,395.07 L498.06,394.88 L498.31,394.73 L498.55,394.63 L498.80,394.60" fill="none" stroke="#0072BD" stroke-width="1.45" stroke-linejoin="round"/>
<path d="M309.1,397.4 H498.9" fill="none" stroke="#D95319" stroke-width="1.5"/>
</g>
<rect x="309.1" y="341.1" width="189.80" height="127.10" fill="none" stroke="#1c1c1c" stroke-width="1.4"/>
<path d="M309.10,468.2 v-2.8 M309.10,341.1 v2.8 M340.73,468.2 v-2.8 M340.73,341.1 v2.8 M372.37,468.2 v-2.8 M372.37,341.1 v2.8 M404.00,468.2 v-2.8 M404.00,341.1 v2.8 M435.63,468.2 v-2.8 M435.63,341.1 v2.8 M467.27,468.2 v-2.8 M467.27,341.1 v2.8 M498.90,468.2 v-2.8 M498.90,341.1 v2.8 M309.1,468.20 h2.8 M498.9,468.20 h-2.8 M309.1,439.96 h2.8 M498.9,439.96 h-2.8 M309.1,411.71 h2.8 M498.9,411.71 h-2.8 M309.1,383.47 h2.8 M498.9,383.47 h-2.8 M309.1,355.22 h2.8 M498.9,355.22 h-2.8" fill="none" stroke="#1c1c1c" stroke-width="1.2"/>
<text class="tk" x="309.10" y="481.30" text-anchor="middle">0</text>
<text class="tk" x="340.73" y="481.30" text-anchor="middle">10</text>
<text class="tk" x="372.37" y="481.30" text-anchor="middle">20</text>
<text class="tk" x="404.00" y="481.30" text-anchor="middle">30</text>
<text class="tk" x="435.63" y="481.30" text-anchor="middle">40</text>
<text class="tk" x="467.27" y="481.30" text-anchor="middle">50</text>
<text class="tk" x="498.90" y="481.30" text-anchor="middle">60</text>
<text class="tk" x="305.00" y="472.10" text-anchor="end">-100</text>
<text class="tk" x="305.00" y="443.86" text-anchor="end">-60</text>
<text class="tk" x="305.00" y="415.61" text-anchor="end">-20</text>
<text class="tk" x="305.00" y="387.37" text-anchor="end">20</text>
<text class="tk" x="305.00" y="359.12" text-anchor="end">60</text>
<text class="lb" x="404.00" y="493.50" text-anchor="middle" textLength="34.3" lengthAdjust="spacingAndGlyphs">time(s)</text>
<text class="lb" transform="translate(281.5,404.65) rotate(-90)" text-anchor="middle" textLength="72.5" lengthAdjust="spacingAndGlyphs">yaw velocity <tspan class="it">γ</tspan></text>
<rect x="31.7" y="504.0" width="474.3" height="41.700000000000045" fill="#fff" stroke="#1c1c1c" stroke-width="1.45"/>
<path d="M33.8,514.8 H57.4" stroke="#0072BD" stroke-width="1.7"/>
<path d="M33.8,534.8 H57.4" stroke="#D95319" stroke-width="1.7"/>
<text class="lg" x="60.0" y="516.6">x<tspan class="sb" dy="5.5">p</tspan><tspan dy="-5.5">(t), y</tspan><tspan class="sb" dy="5.5">p</tspan><tspan dy="-5.5">(t), </tspan><tspan class="bi">ψ</tspan>(t), <tspan class="bi">ϑ</tspan>(t), v(t), r(t) without considering thruster faults in existing literature</text>
<text class="lg" x="60.0" y="536.7">x<tspan class="sb" dy="5.5">p</tspan><tspan dy="-5.5">(t), y</tspan><tspan class="sb" dy="5.5">p</tspan><tspan dy="-5.5">(t), </tspan><tspan class="bi">ψ</tspan>(t), <tspan class="bi">ϑ</tspan>(t), v(t), r(t) in this paper</text>
</svg>
</body></html>
